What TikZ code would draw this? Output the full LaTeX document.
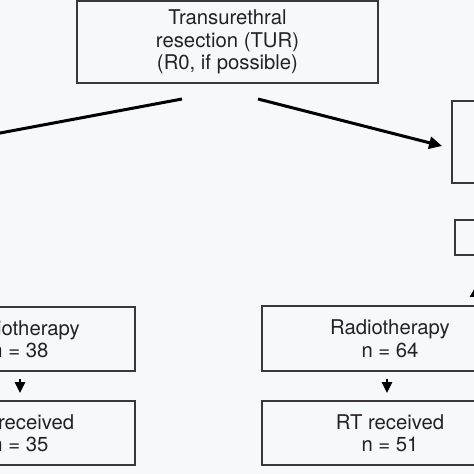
\documentclass[tikz,border=0pt]{standalone}
\usepackage{fontspec}
\setmainfont{TeX Gyre Heros}
\usetikzlibrary{arrows.meta,calc}
\definecolor{bg}{HTML}{F6F9FC}
\definecolor{ink}{HTML}{222222}
\definecolor{edge}{HTML}{383838}
\begin{document}
\begin{tikzpicture}[x=1pt,y=-1pt,
  box/.style={draw=edge, line width=1.8pt, inner sep=0pt, align=center,
    text=ink, font=\fontsize{20.3}{22.5}\selectfont},
  diag/.style={line width=3pt, black, -{Triangle[length=13pt,width=12pt]}},
  darr/.style={line width=2.4pt, black, -{Triangle[length=11pt,width=10pt]}}]
\useasboundingbox (0,0) rectangle (474,474);
\fill[bg] (0,0) rectangle (474,474);
\clip (0,0) rectangle (474,474);

\node[box, minimum width=301pt, minimum height=82pt] (tur) at (227.5,42)
  {Transurethral\\resection (TUR)\\(R0, if possible)};
\node[box, minimum width=108pt, minimum height=82pt] (rb1) at (506,142) {};
\node[box, minimum width=105pt, minimum height=35pt] (rb2) at (507.5,237.5) {};

\node[box, minimum width=230pt, minimum height=64pt] (lrt) at (20,339) {Radiotherapy\\n = 38};
\node[box, minimum width=230pt, minimum height=64pt] (lrec) at (20,433) {RT received\\n = 35};
\node[box, minimum width=256pt, minimum height=65pt] (rrt) at (390,338.5) {Radiotherapy\\n = 64};
\node[box, minimum width=256pt, minimum height=64pt] (rrec) at (390,433) {RT received\\n = 51};

\coordinate (tl) at (182,99);
\coordinate (tr) at (258,99);
\coordinate (lend) at (-40,140.5);

\draw[diag] (tl) -- (lend);
\draw[diag] (tr) -- ($(rb1.west)+(-9,4)$);

\draw[darr] ($(lrt.south)+(0,7)$) -- ($(lrec.north)+(0,-7)$);
\draw[darr] ($(rrt.south)+(-3,7)$) -- ($(rrec.north)+(-3,-7)$);
\draw[darr, -{Triangle[length=11pt,width=12pt]}] ($(rrt.north)+(86,-3)$) -- ($(rb2.south)+(-31.5,30)$);
\end{tikzpicture}
\end{document}
